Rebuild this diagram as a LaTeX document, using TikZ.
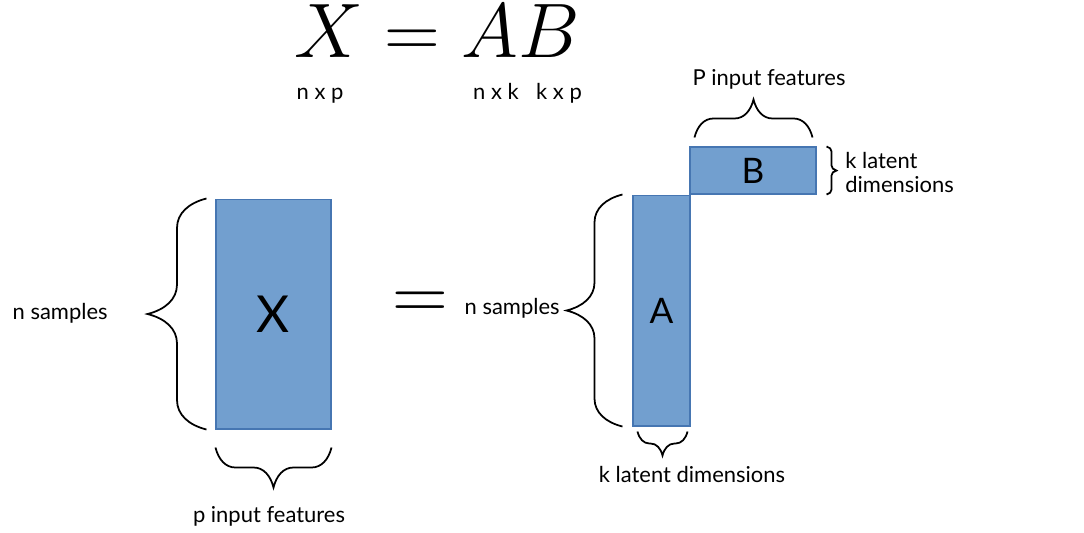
\RequirePackage{fix-cm}
\documentclass[tikz,border=0pt]{standalone}
\usepackage{fontspec}
\setmainfont{Lato}
\usetikzlibrary{decorations.pathreplacing}

\definecolor{matfill}{RGB}{114,159,207}
\definecolor{matline}{RGB}{70,118,178}

\begin{document}
\begin{tikzpicture}[x=0.02cm,y=-0.02cm,
    mat/.style={draw=matline, line width=0.6pt, fill=matfill, inner sep=0pt},
    lbl/.style={inner sep=0pt, font=\fontsize{12.5}{13.6}\selectfont},
    curly/.style={decorate, line width=1pt,
      decoration={brace, amplitude=#1, transform={yscale=2}}}]
  \useasboundingbox (0,0) rectangle (1084,532);

  %draw equation
  \node[inner sep=0pt, anchor=base] (eq) at (437,57) {\fontsize{44}{44}\selectfont$X = AB$};
  \node[lbl, anchor=base] (dimX) at (320,99) {n x p};
  \node[lbl, anchor=base] (dimA) at (496,99) {n x k};
  \node[lbl, anchor=base] (dimB) at (559,99) {k x p};

  %draw matrices
  \node[mat, minimum width=2.3cm, minimum height=4.6cm, font=\fontsize{29}{29}\selectfont] (X) at (273.5,314) {X};
  \node[mat, minimum width=1.14cm, minimum height=4.62cm, font=\fontsize{20}{20}\selectfont] (A) at (661.5,310.5) {A};
  \node[mat, minimum width=2.52cm, minimum height=0.94cm, font=\fontsize{20}{20}\selectfont] (B) at (753,170.5) {B};
  \node[inner sep=0pt] (equal) at (420,306) {\fontsize{44}{44}\selectfont$=$};

  %draw braces
  \draw[curly=0.59cm] ([xshift=-0.18cm]X.south west) -- ([xshift=-0.18cm]X.north west);
  \draw[curly=0.4cm] ([yshift=-0.36cm]X.south east) -- ([yshift=-0.36cm]X.south west);
  \draw[curly=0.56cm] ([xshift=-0.2cm]A.south west) -- ([xshift=-0.2cm]A.north west);
  \draw[curly=0.24cm] ([xshift=-0.06cm,yshift=-0.1cm]A.south east) -- ([xshift=0.1cm,yshift=-0.1cm]A.south west);
  \draw[curly=0.38cm] ([xshift=0.1cm,yshift=0.18cm]B.north west) -- ([xshift=-0.08cm,yshift=0.18cm]B.north east);
  \draw[curly=0.1cm] ([xshift=0.2cm]B.north east) -- ([xshift=0.2cm]B.south east);

  %draw labels
  \node[lbl, anchor=base east] (nX) at (108,319) {n samples};
  \node[lbl, anchor=base] (pX) at (269,522) {p input features};
  \node[lbl, anchor=base east] (nA) at (560,314) {n samples};
  \node[lbl, anchor=base] (kA) at (692,482) {k latent dimensions};
  \node[lbl, anchor=base] (pB) at (769,85) {P input features};
  \node[lbl, anchor=west, align=left] (kB) at (845,172.5) {k latent\\dimensions};
\end{tikzpicture}
\end{document}
